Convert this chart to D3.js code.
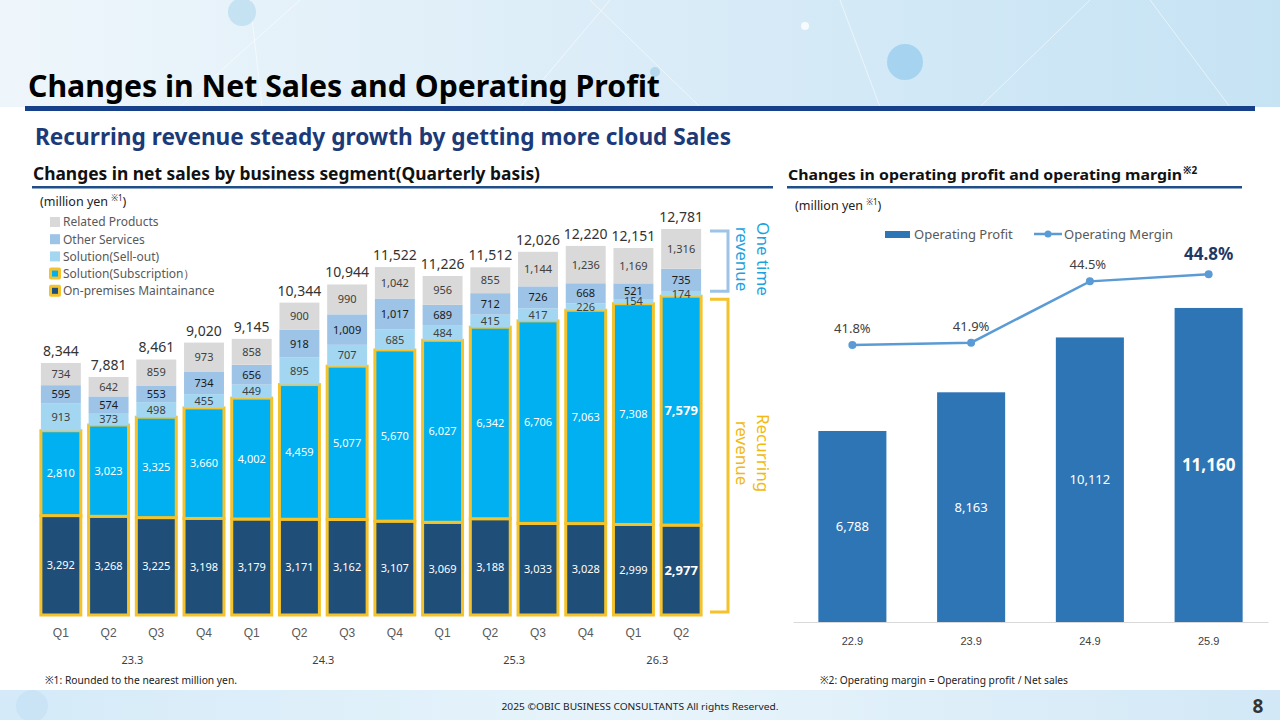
<!DOCTYPE html>
<html lang="en">
<head>
<meta charset="UTF-8" />
<title>Changes in Net Sales and Operating Profit</title>
<style>
  html, body { margin: 0; padding: 0; background: #fff; }
  svg { display: block; font-family: "Noto Sans", "DejaVu Sans", sans-serif; }
</style>
<script src="https://cdn.jsdelivr.net/npm/d3@7/dist/d3.min.js"></script>
</head>
<body>
<script>
// ---- data (million yen) ----
const quarters = ["Q1","Q2","Q3","Q4","Q1","Q2","Q3","Q4","Q1","Q2","Q3","Q4","Q1","Q2"];
const fiscalYears = ["23.3","24.3","25.3","26.3"];
const fiscalYearSpans = [[0,3],[4,7],[8,11],[12,13]];

const onPremises      = [3292,3268,3225,3198,3179,3171,3162,3107,3069,3188,3033,3028,2999,2977];
const subscription    = [2810,3023,3325,3660,4002,4459,5077,5670,6027,6342,6706,7063,7308,7579];
const sellOut         = [913,373,498,455,449,895,707,685,484,415,417,226,154,174];
const otherServices   = [595,574,553,734,656,918,1009,1017,689,712,726,668,521,735];
const relatedProducts = [734,642,859,973,858,900,990,1042,956,855,1144,1236,1169,1316];
const netSalesTotals  = [8344,7881,8461,9020,9145,10344,10944,11522,11226,11512,12026,12220,12151,12781];

const periods = ["22.9","23.9","24.9","25.9"];
const operatingProfit = [6788,8163,10112,11160];
const operatingMargin = [41.8,41.9,44.5,44.8];

const segmentKeys = ["onPremises","subscription","sellOut","otherServices","relatedProducts"];
const segmentNames = {
  relatedProducts: "Related Products",
  otherServices: "Other Services",
  sellOut: "Solution(Sell-out)",
  subscription: "Solution(Subscription）",
  onPremises: "On-premises Maintainance"
};
const segmentColor = {
  onPremises: "#1f4e79",
  subscription: "#00b0f0",
  sellOut: "#a3d6f0",
  otherServices: "#9dc3e6",
  relatedProducts: "#d9d9d9"
};
const labelColor = {
  onPremises: "#ffffff",
  subscription: "#ffffff",
  sellOut: "#404040",
  otherServices: "#1a1a1a",
  relatedProducts: "#404040"
};
const recurringKeys = ["onPremises","subscription"];
const yellow = "#f4c22b";

const fmt = d3.format(",");
const last = quarters.length - 1;

const svg = d3.select("body").append("svg")
  .attr("width", 1280).attr("height", 720);
const defs = svg.append("defs");

// ---- page decoration ----
const hg = defs.append("linearGradient").attr("id", "hdr").attr("x1", 0).attr("x2", 1);
hg.append("stop").attr("offset", 0).attr("stop-color", "#eef6fb");
hg.append("stop").attr("offset", 0.45).attr("stop-color", "#dcedf8");
hg.append("stop").attr("offset", 1).attr("stop-color", "#c6e3f4");
const fg = defs.append("linearGradient").attr("id", "ftr").attr("x1", 0).attr("x2", 1);
fg.append("stop").attr("offset", 0).attr("stop-color", "#d4eaf8");
fg.append("stop").attr("offset", 0.5).attr("stop-color", "#e8f4fb");
fg.append("stop").attr("offset", 1).attr("stop-color", "#d2e8f6");

svg.append("rect").attr("width", 1280).attr("height", 107).attr("fill", "url(#hdr)");
const deco = svg.append("g").attr("fill", "none").attr("stroke", "#ffffff").attr("stroke-opacity", 0.55);
[[180,107,300,0],[250,0,262,107],[520,107,610,0],[590,0,700,107],[840,0,880,107],[980,107,1090,0],[1150,0,1230,107]]
  .forEach(l => deco.append("line").attr("x1", l[0]).attr("y1", l[1]).attr("x2", l[2]).attr("y2", l[3]));
svg.append("circle").attr("cx", 242).attr("cy", 12).attr("r", 14).attr("fill", "#b7dbf0").attr("opacity", 0.7);
svg.append("circle").attr("cx", 905).attr("cy", 62).attr("r", 18).attr("fill", "#9fd0ee").attr("opacity", 0.85);
svg.append("circle").attr("cx", 655).attr("cy", 72).attr("r", 5).attr("fill", "#9fcbe6").attr("opacity", 0.6);
svg.append("circle").attr("cx", 805).attr("cy", 26).attr("r", 4).attr("fill", "#ffffff").attr("opacity", 0.8);

svg.append("rect").attr("x", 25).attr("y", 106).attr("width", 1230).attr("height", 5).attr("fill", "#17408b");
svg.append("text").attr("x", 28).attr("y", 97)
  .attr("font-size", 30).attr("font-weight", 700).attr("fill", "#000")
  .attr("textLength", 632).attr("lengthAdjust", "spacingAndGlyphs")
  .text("Changes in Net Sales and Operating Profit");

svg.append("text").attr("x", 35).attr("y", 145)
  .attr("font-size", 23).attr("font-weight", 700).attr("fill", "#1c3a78")
  .attr("textLength", 696).attr("lengthAdjust", "spacingAndGlyphs")
  .text("Recurring revenue steady growth by getting more cloud Sales");

svg.append("text").attr("x", 33).attr("y", 180)
  .attr("font-size", 17).attr("font-weight", 700).attr("fill", "#111")
  .attr("textLength", 507).attr("lengthAdjust", "spacingAndGlyphs")
  .text("Changes in net sales by business segment(Quarterly basis)");
svg.append("rect").attr("x", 32).attr("y", 186).attr("width", 741).attr("height", 2.5).attr("fill", "#1f4e89");

svg.append("text").attr("x", 788).attr("y", 180)
  .attr("font-size", 15).attr("font-weight", 700).attr("fill", "#111")
  .attr("textLength", 394).attr("lengthAdjust", "spacingAndGlyphs")
  .text("Changes in operating profit and operating margin");
svg.append("text").attr("x", 1183).attr("y", 174)
  .attr("font-size", 10).attr("font-weight", 700).attr("fill", "#111").text("※2");
svg.append("rect").attr("x", 787).attr("y", 186).attr("width", 455).attr("height", 2.5).attr("fill", "#1f4e89");

svg.append("rect").attr("x", 0).attr("y", 690).attr("width", 1280).attr("height", 30).attr("fill", "url(#ftr)");
svg.append("circle").attr("cx", 32).attr("cy", 706).attr("r", 16).attr("fill", "#c4e1f5").attr("opacity", 0.7);
svg.append("text").attr("x", 640).attr("y", 710).attr("text-anchor", "middle")
  .attr("font-size", 9.5).attr("fill", "#222")
  .attr("textLength", 277).attr("lengthAdjust", "spacingAndGlyphs")
  .text("2025  ©OBIC BUSINESS CONSULTANTS All rights Reserved.");
svg.append("text").attr("x", 1258).attr("y", 713).attr("text-anchor", "middle")
  .attr("font-size", 19).attr("font-weight", 700).attr("fill", "#333").text("8");

// ---- left chart: net sales by segment ----
const rows = quarters.map((q, i) => ({
  i,
  onPremises: onPremises[i],
  subscription: subscription[i],
  sellOut: sellOut[i],
  otherServices: otherServices[i],
  relatedProducts: relatedProducts[i]
}));
const stacked = d3.stack().keys(segmentKeys)(rows);
const pieces = stacked.flatMap(s => s.map(d => ({ key: s.key, d })));

const xL = d3.scaleBand().domain(d3.range(quarters.length))
  .range([37, 705]).paddingInner(0.163).paddingOuter(0.0815);
const yL = d3.scaleLinear().domain([0, 14000]).range([615, 615 - 14000 * 0.0302]);

const left = svg.append("g").attr("class", "net-sales");

left.append("g").attr("class", "segments")
  .selectAll("rect").data(pieces).join("rect")
  .attr("x", p => xL(p.d.data.i))
  .attr("width", xL.bandwidth())
  .attr("y", p => yL(p.d[1]))
  .attr("height", p => yL(p.d[0]) - yL(p.d[1]))
  .attr("fill", p => segmentColor[p.key])
  .attr("stroke", p => recurringKeys.includes(p.key) ? yellow : "none")
  .attr("stroke-width", 3);

// labels go on top of every rect
left.append("g").attr("class", "segment-labels")
  .selectAll("text").data(pieces).join("text")
  .attr("x", p => xL(p.d.data.i) + xL.bandwidth() / 2)
  .attr("y", p => (yL(p.d[0]) + yL(p.d[1])) / 2)
  .attr("dy", "0.36em")
  .attr("text-anchor", "middle")
  .attr("font-size", p => recurringKeys.includes(p.key) && p.d.data.i === last ? 13 : 11)
  .attr("font-weight", p => recurringKeys.includes(p.key) && p.d.data.i === last ? 700 : 400)
  .attr("fill", p => labelColor[p.key])
  .text(p => fmt(p.d[1] - p.d[0]));

left.selectAll("text.total").data(netSalesTotals).join("text")
  .attr("class", "total")
  .attr("x", (d, i) => xL(i) + xL.bandwidth() / 2)
  .attr("y", d => yL(d) - 7)
  .attr("text-anchor", "middle")
  .attr("font-size", 14).attr("fill", "#333")
  .text(d => fmt(d));

const xAxisL = left.append("g").attr("transform", "translate(0,633)")
  .call(d3.axisBottom(xL).tickSize(0).tickPadding(0).tickFormat(i => quarters[i]));
xAxisL.select(".domain").remove();
xAxisL.selectAll("text").attr("y", 0).attr("dy", "0.35em")
  .attr("font-size", 12).attr("fill", "#595959").attr("font-family", null);

left.selectAll("text.fy").data(fiscalYears).join("text")
  .attr("class", "fy")
  .attr("x", (d, k) => (xL(fiscalYearSpans[k][0]) + xL(fiscalYearSpans[k][1])) / 2 + xL.bandwidth() / 2)
  .attr("y", 660).attr("dy", "0.35em")
  .attr("text-anchor", "middle").attr("font-size", 11).attr("fill", "#404040")
  .text(d => d);

// unit + legend
const unitL = left.append("text").attr("x", 40).attr("y", 206).attr("font-size", 12.5).attr("fill", "#222");
unitL.append("tspan").text("(million yen ");
unitL.append("tspan").attr("font-size", 8).attr("dy", -5).text("※1");
unitL.append("tspan").attr("dy", 5).text(")");

const legendKeys = ["relatedProducts","otherServices","sellOut","subscription","onPremises"];
const legend = left.append("g").selectAll("g").data(legendKeys).join("g")
  .attr("transform", (k, j) => `translate(50,${222 + j * 17.2})`);
legend.each(function (k) {
  const g = d3.select(this);
  if (recurringKeys.includes(k)) {
    g.append("rect").attr("x", -1).attr("y", -6).attr("width", 12).attr("height", 12).attr("rx", 2).attr("fill", yellow);
    g.append("rect").attr("x", 2).attr("y", -3).attr("width", 6).attr("height", 6).attr("fill", segmentColor[k]);
  } else {
    g.append("rect").attr("x", 0).attr("y", -5).attr("width", 10).attr("height", 10).attr("fill", segmentColor[k]);
  }
});
legend.append("text").attr("x", 13).attr("dy", "0.36em")
  .attr("font-size", 12).attr("fill", "#595959").text(k => segmentNames[k]);

// brackets: one time / recurring revenue
const recurringTop = yL(onPremises[last] + subscription[last]);
left.append("path")
  .attr("d", `M710,${yL(netSalesTotals[last]) + 2}H728V${recurringTop - 5}H710`)
  .attr("fill", "none").attr("stroke", "#9dc3e6").attr("stroke-width", 3);
left.append("path")
  .attr("d", `M710,${recurringTop + 3}H728V${yL(0) - 3}H710`)
  .attr("fill", "none").attr("stroke", yellow).attr("stroke-width", 3);

// rotated 90deg: first line sits on the right, second on the left
function sideLabel(cy, lines, color) {
  const t = left.append("text").attr("transform", `translate(752,${cy}) rotate(90)`)
    .attr("text-anchor", "middle").attr("font-size", 17).attr("fill", color);
  t.append("tspan").attr("x", 0).attr("y", -5).text(lines[0]);
  t.append("tspan").attr("x", 0).attr("y", 16).text(lines[1]);
}
sideLabel(259, ["One time", "revenue"], "#1aa3e0");
sideLabel(453, ["Recurring", "revenue"], "#f2b90f");

left.append("text").attr("x", 45).attr("y", 684)
  .attr("font-size", 10).attr("fill", "#222")
  .attr("textLength", 192).attr("lengthAdjust", "spacingAndGlyphs")
  .text("※1: Rounded to the nearest million yen.");

// ---- right chart: operating profit and margin ----
const right = svg.append("g").attr("class", "profit");
const xR = d3.scaleBand().domain(periods).range([793, 1268]).paddingInner(0.427).paddingOuter(0.2135);
const yR = d3.scaleLinear().domain([0, 12000]).range([622, 622 - 12000 * 0.02814]);
const yM = d3.scaleLinear().domain([40, 46]).range([345 + 1.8 * 23.57, 345 - 4.2 * 23.57]);

const unitR = right.append("text").attr("x", 795).attr("y", 210).attr("font-size", 12.5).attr("fill", "#222");
unitR.append("tspan").text("(million yen ");
unitR.append("tspan").attr("font-size", 8).attr("dy", -5).text("※1");
unitR.append("tspan").attr("dy", 5).text(")");

right.selectAll("rect.bar").data(operatingProfit).join("rect")
  .attr("class", "bar")
  .attr("x", (d, i) => xR(periods[i]))
  .attr("width", xR.bandwidth())
  .attr("y", d => yR(d))
  .attr("height", d => yR(0) - yR(d))
  .attr("fill", "#2e75b6");

right.selectAll("text.val").data(operatingProfit).join("text")
  .attr("class", "val")
  .attr("x", (d, i) => xR(periods[i]) + xR.bandwidth() / 2)
  .attr("y", d => (yR(0) + yR(d)) / 2)
  .attr("dy", "0.36em").attr("text-anchor", "middle")
  .attr("font-size", (d, i) => i === periods.length - 1 ? 17 : 13)
  .attr("font-weight", (d, i) => i === periods.length - 1 ? 700 : 400)
  .attr("fill", "#fff")
  .text(d => fmt(d));

const xAxisR = right.append("g").attr("transform", "translate(0,622)")
  .call(d3.axisBottom(xR).tickSize(0).tickPadding(0));
xAxisR.select(".domain").attr("stroke", "#d9d9d9").attr("stroke-width", 1);
xAxisR.selectAll("text").attr("y", 19).attr("dy", "0.35em")
  .attr("font-size", 11).attr("fill", "#404040").attr("font-family", null);

const line = d3.line()
  .x((d, i) => xR(periods[i]) + xR.bandwidth() / 2)
  .y(d => yM(d));
right.append("path").datum(operatingMargin)
  .attr("d", line).attr("fill", "none")
  .attr("stroke", "#5b9bd5").attr("stroke-width", 2.5);
right.selectAll("circle.pt").data(operatingMargin).join("circle")
  .attr("class", "pt")
  .attr("cx", (d, i) => xR(periods[i]) + xR.bandwidth() / 2)
  .attr("cy", d => yM(d)).attr("r", 4).attr("fill", "#5b9bd5");
right.selectAll("text.pct").data(operatingMargin).join("text")
  .attr("class", "pct")
  .attr("x", (d, i) => xR(periods[i]) + xR.bandwidth() / 2 - (i === 2 ? 2 : 0))
  .attr("y", (d, i) => yM(d) - (i === periods.length - 1 ? 14 : 12))
  .attr("text-anchor", "middle")
  .attr("font-size", (d, i) => i === periods.length - 1 ? 17 : 13)
  .attr("font-weight", (d, i) => i === periods.length - 1 ? 700 : 400)
  .attr("fill", (d, i) => i === periods.length - 1 ? "#1f3864" : "#404040")
  .text(d => d.toFixed(1) + "%");

// right legend
const lg = right.append("g");
lg.append("rect").attr("x", 885).attr("y", 231).attr("width", 25).attr("height", 7).attr("fill", "#2e75b6");
lg.append("text").attr("x", 914).attr("y", 234).attr("dy", "0.36em")
  .attr("font-size", 13).attr("fill", "#595959").text("Operating Profit");
lg.append("line").attr("x1", 1034).attr("x2", 1062).attr("y1", 234).attr("y2", 234)
  .attr("stroke", "#5b9bd5").attr("stroke-width", 2.5);
lg.append("circle").attr("cx", 1048).attr("cy", 234).attr("r", 3.5).attr("fill", "#5b9bd5");
lg.append("text").attr("x", 1064).attr("y", 234).attr("dy", "0.36em")
  .attr("font-size", 13).attr("fill", "#595959").text("Operating Mergin");

right.append("text").attr("x", 820).attr("y", 684)
  .attr("font-size", 10).attr("fill", "#222")
  .attr("textLength", 248).attr("lengthAdjust", "spacingAndGlyphs")
  .text("※2: Operating margin = Operating profit / Net sales");
</script>
</body>
</html>
